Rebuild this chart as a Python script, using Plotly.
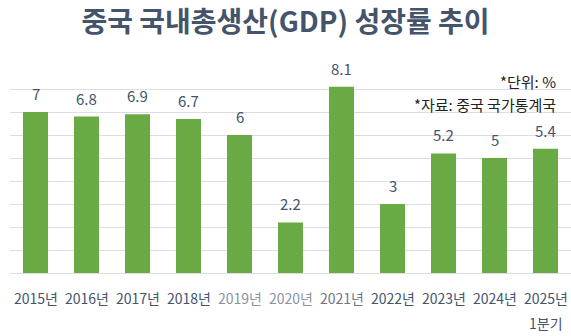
import plotly.graph_objects as go

years = ["2015년", "2016년", "2017년", "2018년", "2019년", "2020년", "2021년",
         "2022년", "2023년", "2024년", "2025년"]
sub_label = "1분기"
growth = [7, 6.8, 6.9, 6.7, 6, 2.2, 8.1, 3, 5.2, 5, 5.4]
labels = ["7", "6.8", "6.9", "6.7", "6", "2.2", "8.1", "3", "5.2", "5", "5.4"]
tick_colors = ["#44546a"] * 4 + ["#8a93a0", "#8a93a0", "#6d7886"] + ["#44546a"] * 4

FONT = "Noto Sans CJK KR"
PLOT_TOP, PLOT_BOTTOM = 66, 273
PH = PLOT_BOTTOM - PLOT_TOP

def py(pix):
    return (PLOT_BOTTOM - pix) / PH

xs = list(range(len(years)))

fig = go.Figure()
fig.add_trace(go.Bar(
    x=xs, y=growth,
    marker=dict(color="#6aaa44", line=dict(width=0)),
    width=0.49,
))

annotations = []
for x, v, t in zip(xs, growth, labels):
    annotations.append(dict(x=x, y=v, xref="x", yref="y", text=t, showarrow=False,
                            xanchor="center", yanchor="bottom", yshift=6,
                            font=dict(family=FONT, size=15, color="#44546a")))
for x, t, c in zip(xs, years, tick_colors):
    annotations.append(dict(x=x, y=py(298), xref="x", yref="paper", text=t, showarrow=False,
                            xanchor="center", yanchor="middle",
                            font=dict(family=FONT, size=14, color=c)))
annotations.append(dict(x=xs[-1], y=py(323), xref="x", yref="paper", text=sub_label,
                        showarrow=False, xanchor="center", yanchor="middle",
                        font=dict(family=FONT, size=14, color="#44546a")))
annotations += [
    dict(text="*단위: %", xref="paper", yref="paper",
         x=(558 - 10) / 561, y=py(81), xanchor="right", yanchor="middle",
         showarrow=False, font=dict(family=FONT, size=15, color="#222222")),
    dict(text="*자료: 중국 국가통계국", xref="paper", yref="paper",
         x=(558 - 10) / 561, y=py(105), xanchor="right", yanchor="middle",
         showarrow=False, font=dict(family=FONT, size=15, color="#222222")),
]

fig.update_layout(
    width=571, height=336,
    margin=dict(l=10, r=0, t=PLOT_TOP, b=336 - PLOT_BOTTOM),
    paper_bgcolor="white", plot_bgcolor="white",
    showlegend=False,
    title=dict(text="<b>중국 국내총생산(GDP) 성장률 추이</b>",
               x=0.5, xanchor="center", y=1 - 22 / 336, yanchor="middle",
               font=dict(family=FONT, size=28, color="#44546a")),
    xaxis=dict(range=[-0.5, 10.5], showticklabels=False,
               showgrid=False, zeroline=False, ticks="", showline=False),
    yaxis=dict(range=[0, 9], dtick=1, showticklabels=False,
               showgrid=True, gridcolor="#dcdde3", gridwidth=1,
               zeroline=True, zerolinecolor="#dcdde3", zerolinewidth=1,
               ticks=""),
    annotations=annotations,
)

fig.write_html("out.html")
